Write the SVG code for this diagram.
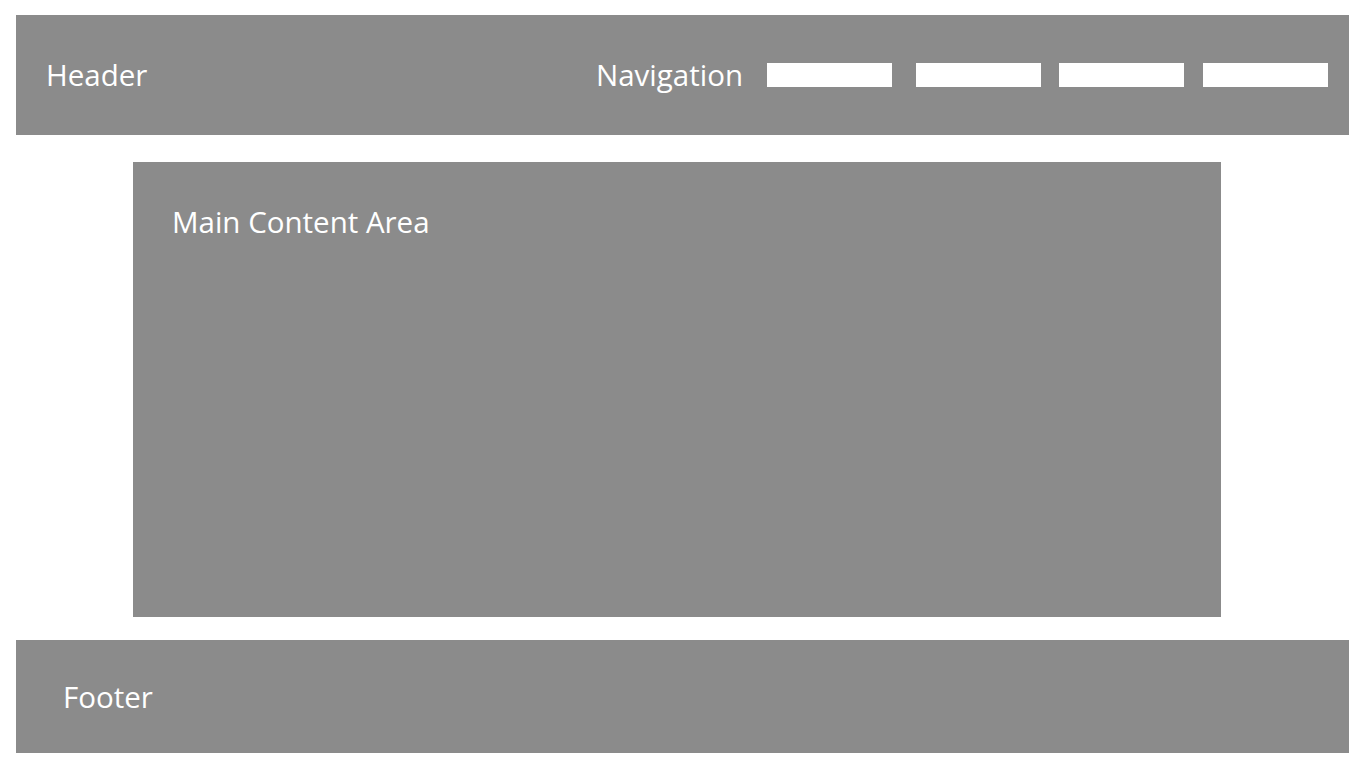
<svg xmlns="http://www.w3.org/2000/svg" width="1366" height="768" viewBox="0 0 1366 768">
<style>
.box{fill:#8b8b8b}
.nav{fill:#ffffff}
.lbl{font-family:"Open Sans","Noto Sans",sans-serif;font-size:29.5px;fill:#ffffff}
</style>
<rect width="1366" height="768" fill="#ffffff"/>
<g id="header">
<rect class="box" x="16" y="15" width="1333" height="120"/>
<text class="lbl" x="46" y="86">Header</text>
</g>
<g id="navigation">
<text class="lbl" x="596" y="86">Navigation</text>
<rect class="nav" x="767" y="63" width="125" height="24"/>
<rect class="nav" x="916" y="63" width="125" height="24"/>
<rect class="nav" x="1059" y="63" width="125" height="24"/>
<rect class="nav" x="1203" y="63" width="125" height="24"/>
</g>
<g id="main">
<rect class="box" x="133" y="162" width="1088" height="455"/>
<text class="lbl" x="172" y="233">Main Content Area</text>
</g>
<g id="footer">
<rect class="box" x="16" y="640" width="1333" height="113"/>
<text class="lbl" x="63" y="708">Footer</text>
</g>
<g id="connectors"/>
</svg>
